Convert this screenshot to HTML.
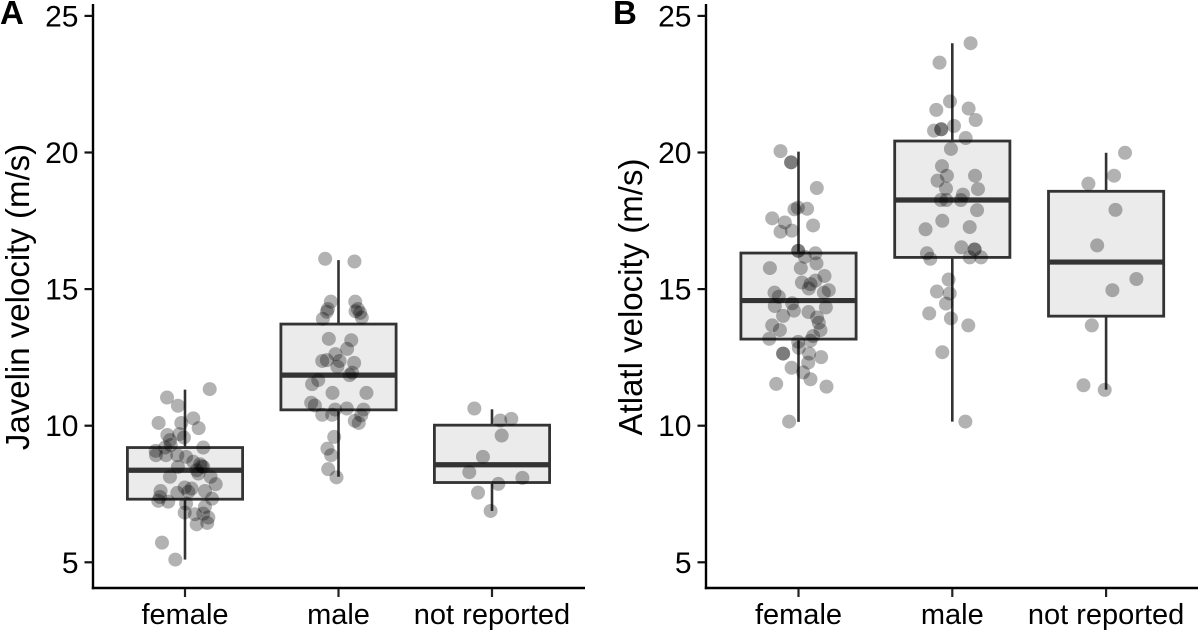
<!DOCTYPE html>
<html lang="en">
<head>
<meta charset="utf-8">
<title>Javelin and atlatl velocity by gender</title>
<style>
html,body{margin:0;padding:0;background:#fff;}
svg{display:block;font-family:"Liberation Sans",Arial,sans-serif;}
</style>
</head>
<body>
<svg id="chart" width="1200" height="631" viewBox="0 0 1200 631" xmlns="http://www.w3.org/2000/svg">
  <rect width="1200" height="631" fill="#fff"/>
  <text x="0" y="24" font-size="33" font-weight="bold" fill="#000">A</text>
  <text x="613" y="24" font-size="33" font-weight="bold" fill="#000">B</text>
  <text transform="translate(29,297) rotate(-90)" text-anchor="middle" font-size="33" fill="#000">Javelin velocity (m/s)</text>
  <text transform="translate(642,297) rotate(-90)" text-anchor="middle" font-size="33" fill="#000">Atlatl velocity (m/s)</text>
  <g id="panel-a"></g>
  <g id="panel-b"></g>
</svg>
<script>
const categories = ["female", "male", "not reported"];
const yTickValues = [5, 10, 15, 20, 25];

const javelinLow = [5.10, 8.13, 6.88];
const javelinQ1 = [7.31, 10.58, 7.92];
const javelinMedian = [8.37, 11.85, 8.57];
const javelinQ3 = [9.20, 13.72, 10.02];
const javelinHigh = [11.32, 16.06, 10.60];

const atlatlLow = [10.14, 10.15, 11.32];
const atlatlQ1 = [13.17, 16.16, 14.01];
const atlatlMedian = [14.58, 18.26, 15.99];
const atlatlQ3 = [16.32, 20.42, 18.58];
const atlatlHigh = [20.03, 24.00, 19.99];

const javelinFemaleJitter = [0.161,-0.117,-0.046,0.054,-0.024,-0.172,0.089,-0.115,-0.037,-0.007,-0.098,-0.093,-0.130,0.119,-0.191,-0.189,-0.124,-0.050,0.007,0.054,0.098,0.109,0.119,-0.046,0.076,0.087,-0.098,0.167,0.200,-0.159,-0.002,0.043,-0.050,0.022,0.130,-0.163,-0.174,-0.109,0.176,0.007,-0.002,0.130,0.065,0.119,0.152,0.076,0.145,-0.150,-0.063];
const javelinFemaleVelocity = [11.34,11.03,10.73,10.27,10.10,10.10,9.91,9.66,9.69,9.57,9.47,9.29,9.20,9.20,9.08,8.92,8.92,8.92,8.86,8.68,8.59,8.52,8.49,8.49,8.37,8.25,8.13,8.13,7.86,7.61,7.74,7.70,7.54,7.58,7.61,7.39,7.25,7.22,7.33,7.15,6.82,7.03,6.76,6.78,6.64,6.39,6.44,5.72,5.10];

const javelinMaleJitter = [-0.087,0.104,-0.050,0.109,-0.069,-0.076,0.126,0.111,0.141,-0.102,0.152,-0.063,0.083,0.056,-0.020,-0.106,-0.076,0.007,0.102,-0.007,0.089,0.072,-0.132,-0.172,-0.039,0.182,-0.178,-0.154,-0.106,-0.022,-0.041,0.054,0.163,0.148,0.106,0.132,-0.028,-0.072,-0.048,-0.067,-0.013];
const javelinMaleVelocity = [16.11,16.01,14.54,14.54,14.27,14.17,14.27,14.19,14.13,13.91,13.96,13.18,13.13,12.81,12.62,12.37,12.40,12.37,12.30,12.16,11.94,11.85,11.67,11.52,11.20,11.20,10.84,10.74,10.40,10.59,10.40,10.63,10.59,10.38,10.18,10.10,9.59,9.16,8.92,8.41,8.11];

const javelinOtherJitter = [-0.115,0.054,0.126,0.063,-0.059,-0.148,0.198,0.041,-0.091,-0.009];
const javelinOtherVelocity = [10.63,10.19,10.25,9.64,8.86,8.30,8.09,7.87,7.55,6.88];

const atlatlFemaleJitter = [-0.117,-0.048,-0.048,0.119,-0.026,-0.004,0.056,-0.171,-0.089,0.095,-0.117,-0.043,-0.002,-0.002,0.041,0.110,0.117,-0.186,0.015,0.169,0.022,0.110,0.078,0.067,0.197,-0.156,-0.128,0.165,-0.041,-0.154,-0.030,0.178,-0.100,0.065,0.121,0.132,0.143,-0.171,-0.121,0.095,0.078,-0.190,-0.002,0.002,-0.100,-0.100,0.069,0.147,0.063,-0.045,0.030,0.078,-0.145,0.182,-0.061];
const atlatlFemaleVelocity = [20.05,19.64,19.64,18.70,17.92,17.98,17.94,17.59,17.44,17.33,17.10,17.14,16.40,16.40,16.18,16.31,15.94,15.77,15.77,15.48,15.24,15.31,15.18,15.02,14.96,14.87,14.72,14.87,14.48,14.38,14.21,14.33,14.02,14.16,13.96,13.77,13.50,13.67,13.50,13.28,13.11,13.18,13.07,12.85,12.64,12.64,12.64,12.51,12.31,12.12,11.95,11.70,11.53,11.43,10.15];

const atlatlMaleJitter = [0.119,-0.083,-0.015,-0.104,0.106,0.152,-0.119,-0.072,-0.072,0.011,0.087,-0.009,-0.067,-0.035,-0.096,0.148,0.167,-0.041,0.069,0.056,-0.074,-0.039,0.161,-0.065,-0.174,0.113,0.059,-0.165,-0.143,0.145,0.145,0.113,0.187,-0.024,-0.100,-0.017,-0.041,-0.150,-0.009,0.104,-0.065,0.085];
const atlatlMaleVelocity = [24.00,23.29,21.87,21.56,21.61,21.19,20.80,20.85,20.85,20.97,20.53,20.13,19.50,19.15,18.97,19.15,18.66,18.68,18.46,18.26,18.26,18.26,17.89,17.50,17.19,17.27,16.53,16.31,16.11,16.45,16.45,16.16,16.16,15.35,14.91,14.84,14.47,14.11,13.93,13.67,12.69,10.15];

const atlatlOtherJitter = [0.123,0.052,-0.115,0.061,-0.058,0.197,0.041,-0.093,-0.147,-0.009];
const atlatlOtherVelocity = [19.99,19.15,18.86,17.90,16.60,15.37,14.96,13.67,11.48,11.31];

const SVG_NS = "http://www.w3.org/2000/svg";

function yScale(v) {
  return 562.3 - (v - 5) * 27.32;
}

function make(parent, tag, attrs) {
  const el = document.createElementNS(SVG_NS, tag);
  for (const k in attrs) el.setAttribute(k, attrs[k]);
  parent.appendChild(el);
  return el;
}

function drawPanel(group, prefix, axisX, axisEnd, xScale, stats, jitters, values) {
  // boxes and whiskers
  categories.forEach(function (cat, i) {
    const cx = xScale(i);
    const halfWidth = 57.6;
    const upper = make(group, "line", { x1: cx, x2: cx, y1: yScale(stats.high[i]), y2: yScale(stats.q3[i]), stroke: "#333", "stroke-width": 2.6 });
    
    
    const lower = make(group, "line", { x1: cx, x2: cx, y1: yScale(stats.q1[i]), y2: yScale(stats.low[i]), stroke: "#333", "stroke-width": 2.6 });
    
    
    const box = make(group, "rect", { x: cx - halfWidth, width: halfWidth * 2, y: yScale(stats.q3[i]), height: yScale(stats.q1[i]) - yScale(stats.q3[i]), fill: "#ebebeb", stroke: "#333", "stroke-width": 2.8 });
    
    
    const median = make(group, "line", { x1: cx - halfWidth, x2: cx + halfWidth, y1: yScale(stats.median[i]), y2: yScale(stats.median[i]), stroke: "#333", "stroke-width": 5.2 });
    
    
  });

  // jittered points
  categories.forEach(function (cat, i) {
    jitters[i].forEach(function (offset, j) {
      const pt = make(group, "circle", { cx: xScale(i + offset), cy: yScale(values[i][j]), r: 7, fill: "#000", "fill-opacity": 0.3 });
      
      
    });
  });

  // axes
  const yAxis = make(group, "line", { x1: axisX, x2: axisX, y1: 4, y2: 589.2, stroke: "#000", "stroke-width": 2.4 });
  
  
  const xAxis = make(group, "line", { x1: axisX - 1.2, x2: axisEnd, y1: 588, y2: 588, stroke: "#000", "stroke-width": 2.4 });
  
  

  yTickValues.forEach(function (v) {
    const tick = make(group, "line", { x1: axisX - 8.5, x2: axisX, y1: yScale(v), y2: yScale(v), stroke: "#111", "stroke-width": 2.2 });
    
    
    const label = make(group, "text", { x: axisX - 14.5, y: yScale(v) + 10.5, "text-anchor": "end", "font-size": 30, fill: "#000" });
    
    
    label.textContent = String(v);
  });

  categories.forEach(function (cat, i) {
    const tick = make(group, "line", { x1: xScale(i), x2: xScale(i), y1: 589, y2: 597, stroke: "#222", "stroke-width": 2.2 });
    
    
    const label = make(group, "text", { x: xScale(i), y: 624, "text-anchor": "middle", "font-size": 29, fill: "#000" });
    
    
    label.textContent = cat;
  });
}

drawPanel(
  document.getElementById("panel-a"), "javelin", 93, 585,
  function (c) { return 185 + 153.5 * c; },
  { low: javelinLow, q1: javelinQ1, median: javelinMedian, q3: javelinQ3, high: javelinHigh },
  [javelinFemaleJitter, javelinMaleJitter, javelinOtherJitter],
  [javelinFemaleVelocity, javelinMaleVelocity, javelinOtherVelocity]
);
drawPanel(
  document.getElementById("panel-b"), "atlatl", 706, 1198,
  function (c) { return 798.5 + 153.8 * c; },
  { low: atlatlLow, q1: atlatlQ1, median: atlatlMedian, q3: atlatlQ3, high: atlatlHigh },
  [atlatlFemaleJitter, atlatlMaleJitter, atlatlOtherJitter],
  [atlatlFemaleVelocity, atlatlMaleVelocity, atlatlOtherVelocity]
);
</script>
</body>
</html>
